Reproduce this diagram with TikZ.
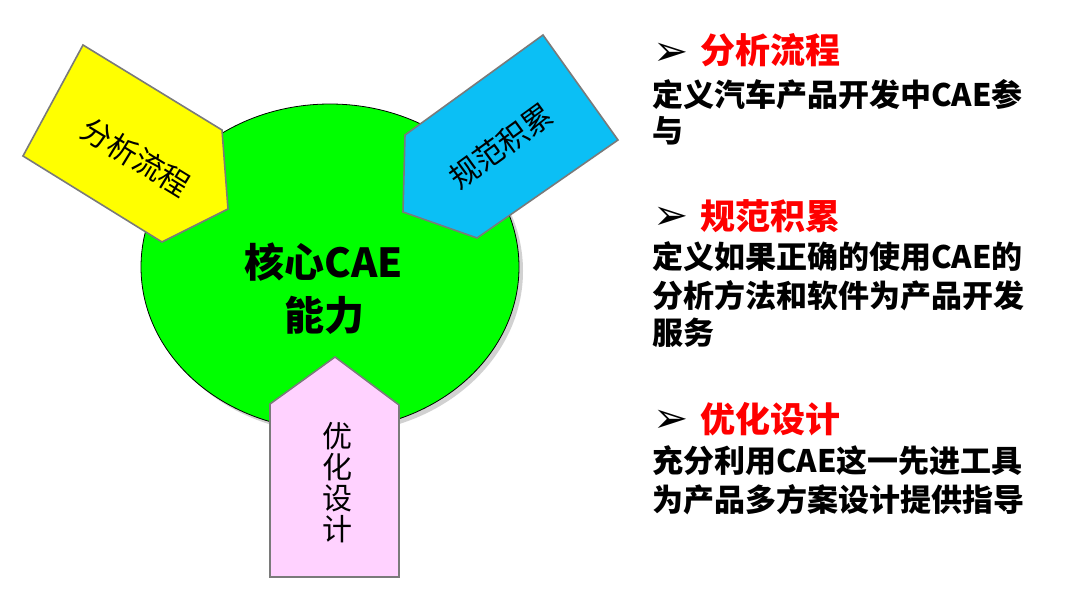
\documentclass[tikz,border=0pt]{standalone}
\usepackage{fontspec}
\setmainfont{Noto Sans CJK SC}
\newfontfamily\cjk{Noto Sans CJK SC}
\newfontfamily\dejavu{DejaVu Sans}
\definecolor{cgreen}{HTML}{00FF00}
\definecolor{cyellow}{HTML}{FFFF00}
\definecolor{cblue}{HTML}{0BBFF5}
\definecolor{cpink}{HTML}{FFD2FF}
\definecolor{cborder}{HTML}{7A7A7A}
\definecolor{cred}{HTML}{FF0000}
\tikzset{
  arrowshape/.style={draw=cborder, line width=1.6pt, line join=miter},
  lbl/.style={font=\cjk\fontsize{30}{31}\selectfont, inner sep=0pt, text=black},
  title/.style={font=\cjk\bfseries\fontsize{35}{36}\selectfont, text=cred, anchor=west, inner sep=0pt},
  desc/.style={font=\cjk\bfseries\fontsize{31}{33}\selectfont, text=black, anchor=west, inner sep=0pt},
  bullet/.style={font=\dejavu\fontsize{42}{42}\selectfont, text=black, anchor=west, inner sep=0pt},
}
\begin{document}
\begin{tikzpicture}[x=1pt,y=-1pt]
\useasboundingbox (0,0) rectangle (1080,591);
\fill[white] (0,0) rectangle (1080,591);
% circle with shadow
\fill[black, opacity=0.18] (334,271) ellipse [x radius=189, y radius=163];
\filldraw[fill=cgreen, draw=black, line width=0.8pt] (330,267) ellipse [x radius=189, y radius=163];
\node[font=\cjk\bfseries\fontsize{40}{53}\selectfont, align=center, inner sep=0pt] (core) at (324,289) {核心CAE\\能力};
% yellow arrow
\filldraw[arrowshape, fill=cyellow] (83,45) -- (222,130) -- (228,209) -- (162,242) -- (23,156) -- cycle;
\node[lbl, rotate=-31.5] (ya) at (136,157) {分析流程};
% blue arrow
\filldraw[arrowshape, fill=cblue] (543,35) -- (618,140) -- (477,238) -- (403,212) -- (405,135) -- cycle;
\node[lbl, rotate=36] (ba) at (501,146) {规范积累};
% pink arrow
\filldraw[arrowshape, fill=cpink] (270,404) -- (335,357) -- (399,405) -- (399,577) -- (270,577) -- cycle;
\node[lbl, align=center] (pa) at (337,483) {优\\化\\设\\计};
% right column
\node[bullet] (b1) at (653,54) {➢};
\node[title] (t1) at (700,50) {分析流程};
\node[desc] (d11) at (652,95) {定义汽车产品开发中CAE参};
\node[desc] (d12) at (652,131) {与};
\node[bullet] (b2) at (653,218) {➢};
\node[title] (t2) at (700,216) {规范积累};
\node[desc] (d21) at (652,257) {定义如果正确的使用CAE的};
\node[desc] (d22) at (652,296) {分析方法和软件为产品开发};
\node[desc] (d23) at (652,333) {服务};
\node[bullet] (b3) at (653,421) {➢};
\node[title] (t3) at (700,419) {优化设计};
\node[desc] (d31) at (652,461) {充分利用CAE这一先进工具};
\node[desc] (d32) at (652,500) {为产品多方案设计提供指导};
\end{tikzpicture}
\end{document}
